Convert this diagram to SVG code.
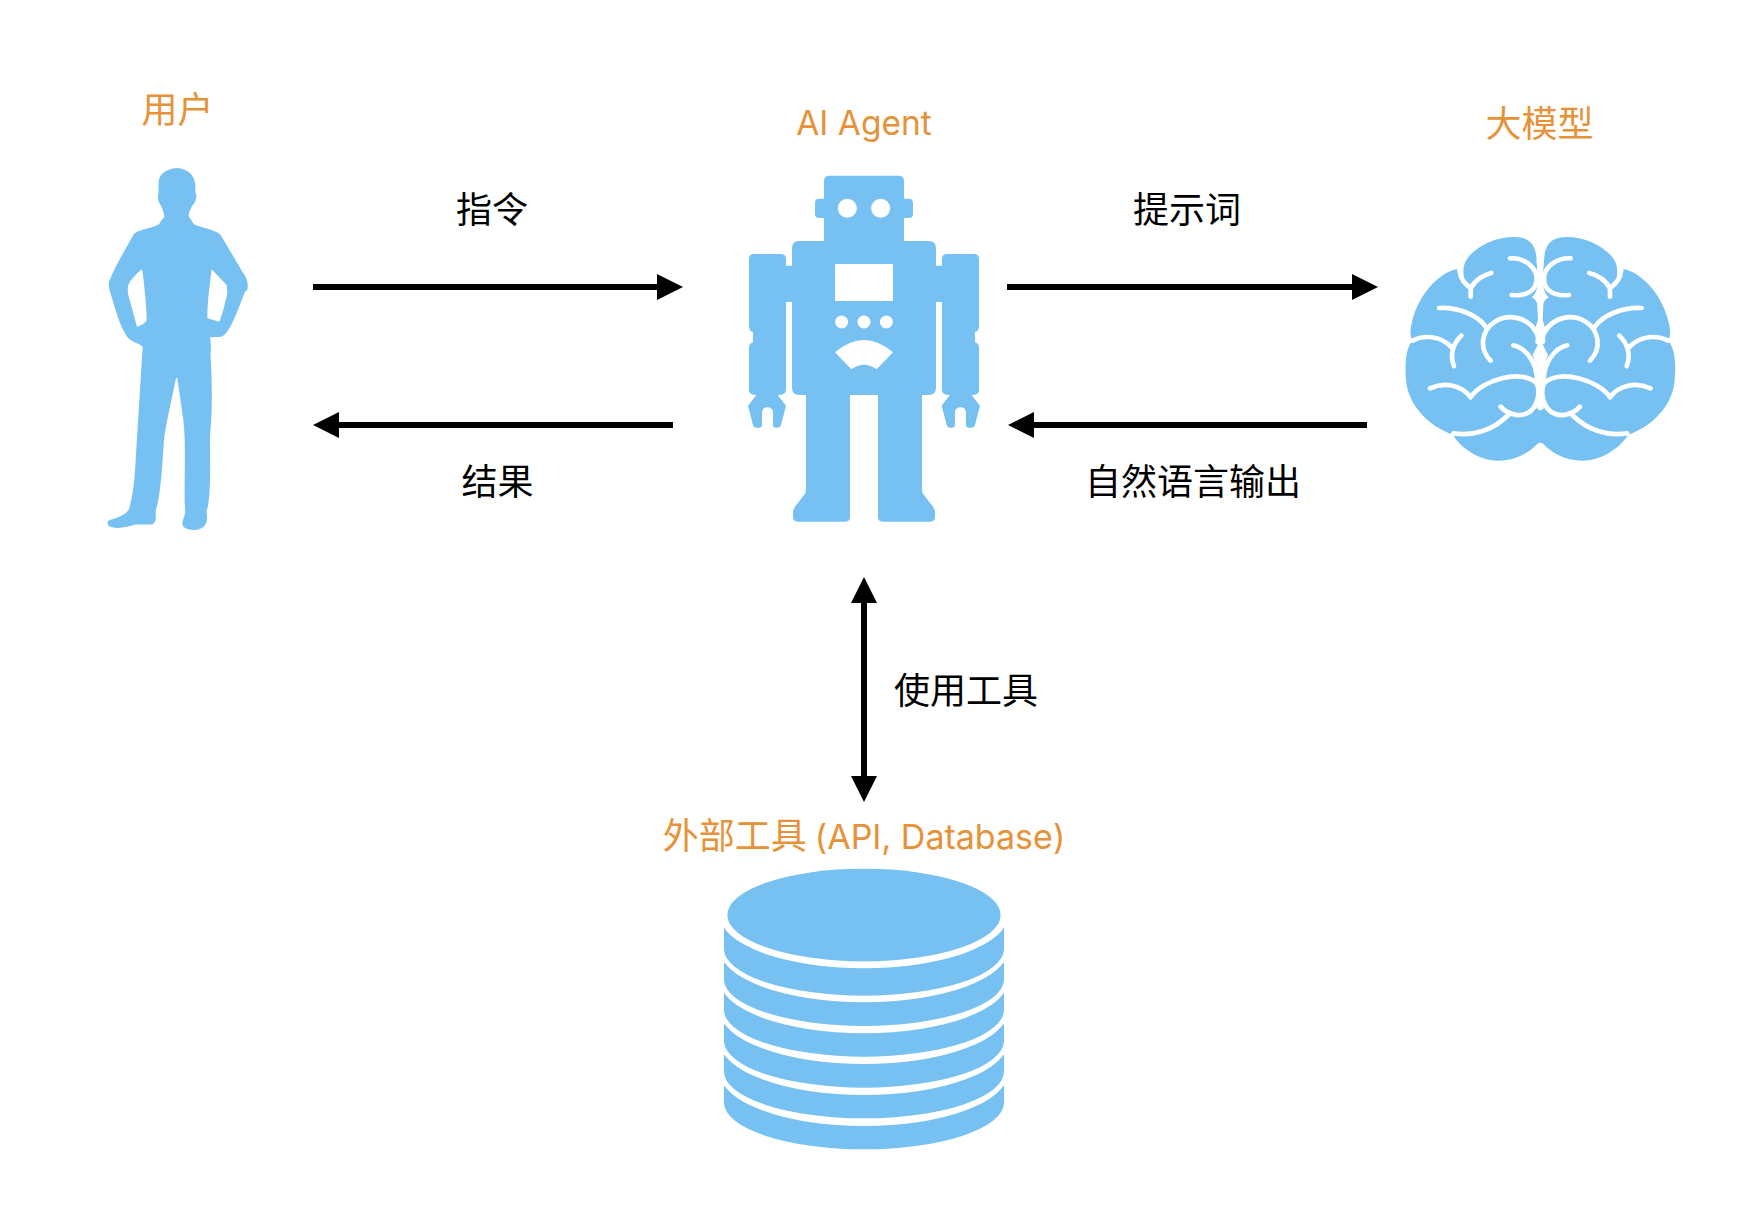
<svg xmlns="http://www.w3.org/2000/svg" width="1752" height="1220" viewBox="0 0 1752 1220">
<style>
.b{fill:#76c1f2}.w{fill:#fff}.ws{fill:none;stroke:#fff;stroke-width:14;stroke-linecap:round;stroke-linejoin:round}
.t{font-family:"Noto Sans CJK SC","Noto Sans",sans-serif;font-size:36px;text-anchor:middle}
.l{font-family:Inter,"Noto Sans",sans-serif;font-size:33.500px}
.m{font-family:Inter,"Noto Sans",sans-serif;font-size:34px}
.o{fill:#e69238}.k{fill:#000}
.c{stroke:#000;stroke-width:6;fill:none}
</style>
<defs>
<marker id="a" markerUnits="userSpaceOnUse" markerWidth="27" markerHeight="26" refX="1" refY="13" orient="auto-start-reverse"><path d="M0,0L26,13L0,26Z" fill="#000"/></marker>
</defs>
<rect width="1752" height="1220" fill="#fff"/>
<g id="connectors">
<path class="c" d="M313,287H658" marker-end="url(#a)"/>
<path class="c" d="M673,425H338" marker-end="url(#a)"/>
<path class="c" d="M1007,287H1353" marker-end="url(#a)"/>
<path class="c" d="M1367,425H1033" marker-end="url(#a)"/>
<path class="c" d="M864,602V777" marker-start="url(#a)" marker-end="url(#a)"/>
</g>
<g id="user">
<path class="b" fill-rule="evenodd" transform="translate(90,70) scale(.3333)" d="M262,294C290,295 315,315 316,345L316,368C322,372 320,395 306,408C298,425 292,435 300,445C305,450 308,462 318,466C345,475 380,482 392,495L460,610C470,622 476,640 472,660L465,665C445,715 420,790 395,800L360,802C366,830 360,850 362,860C367,950 367,1030 360,1100C360,1170 364,1290 349,1325C356,1350 350,1380 310,1380C285,1378 272,1370 279,1350C288,1330 286,1315 284,1300C283,1200 288,1120 280,1050L262,925H258C245,990 228,1060 222,1110C218,1170 212,1285 197,1322C198,1345 199,1364 180,1364H135C115,1372 80,1378 58,1370C50,1362 52,1352 60,1350C85,1342 110,1335 118,1315C135,1250 135,1200 140,1120L158,830C140,815 120,820 105,790C85,755 70,695 60,665C55,650 56,635 60,628C75,590 105,540 130,495C135,480 190,475 208,462C212,450 222,445 223,440C220,420 215,410 210,403C203,390 202,375 206,368C205,355 205,335 208,325C215,305 240,295 262,294ZM152,600C135,615 122,630 116,642C112,655 113,665 115,675L141,770C152,766 165,762 170,750C170,710 163,650 158,605C157,600 155,599 152,600ZM365,598C360,640 352,695 352,745L388,755C398,730 405,700 412,672L410,645Z"/>
</g>
<g id="agent" transform="translate(730,160) scale(.3333)">
<path class="b" fill-rule="evenodd" d="M298,47H506Q522,47 522,63V116H536Q549,116 549,129V161Q549,174 536,174H522V243H596Q618,243 618,265V317H636V297Q636,282 651,282H732Q747,282 747,297V497Q747,515 735,515V547Q747,550 747,565V690Q747,705 725,705L750,737L735,795Q733,803 725,803H718Q708,803 708,795V760Q708,742 692,742Q675,742 675,760V795Q675,803 665,803H660Q652,803 650,795L635,737L660,705Q636,705 636,690V426H618V683Q618,705 596,705H576V990Q576,998 582,1005L610,1042Q615,1050 615,1060V1072Q615,1085 600,1085H458Q444,1085 444,1072V705H360V1072Q360,1085 346,1085H204Q189,1085 189,1072V1060Q189,1050 194,1042L222,1005Q228,998 228,990V705H208Q186,705 186,683V426H168V690Q168,705 143,705L168,737L153,795Q151,803 143,803H138Q129,803 129,795V760Q129,742 112,742Q96,742 96,760V795Q96,803 86,803H79Q71,803 69,795L54,737L79,705Q57,705 57,690V565Q57,550 69,547V515Q57,515 57,497V297Q57,282 72,282H153Q168,282 168,297V317H186V265Q186,243 208,243H282V174H268Q255,174 255,161V129Q255,116 268,116H282V63Q282,47 298,47Z"/>
<circle class="w" cx="352" cy="145" r="28.500"/><circle class="w" cx="452" cy="145" r="28.500"/>
<rect class="w" x="315" y="312" width="174" height="111"/>
<circle class="w" cx="335" cy="486" r="19.500"/><circle class="w" cx="402" cy="486" r="19.500"/><circle class="w" cx="469" cy="486" r="19.500"/>
<path class="w" d="M315,577Q402,503 489,577L440,628Q402,600 364,628Z"/>
</g>
<g id="llm" transform="translate(1390,220) scale(.3333)">
<path class="b" d="M440,130C440,80 425,52 375,51C320,50 270,75 240,105C222,125 217,145 222,170L205,146C150,155 85,220 65,310C60,335 60,350 68,362C45,385 45,440 48,480C55,560 120,620 190,645C205,675 260,722 325,722C380,722 420,695 442,672Q451,664 460,672C482,695 522,722 577,722C642,722 697,675 714,645C784,620 848,560 854,480C858,440 857,385 834,362C842,350 842,335 837,310C817,220 752,155 697,146L680,170C685,145 680,125 662,105C632,75 582,50 527,51C477,52 462,80 462,130Z"/>
<path class="w" d="M440,120C441,150 444,165 444,180C444,205 435,225 425,232C436,238 442,245 442,258L444,300L436,325L443,375L428,405C436,425 439,445 439,490L443,525V545L440,565L451,572L462,565L459,545V525L463,490C463,445 466,425 474,405L459,375L466,325L458,300L460,258C460,245 466,238 477,232C467,225 458,205 458,180C458,165 461,150 462,120Z"/>
<g class="ws">
<path d="M360,115C400,112 440,140 440,175C440,205 420,230 365,225"/>
<path d="M542,115C502,112 462,140 462,175C462,205 482,230 537,225"/>
<path d="M208,150C212,180 225,190 242,205M242,230V205C255,180 280,165 304,159"/>
<path d="M694,150C690,180 677,190 660,205M660,230V205C647,180 622,165 598,159"/>
<path d="M147,264C200,260 265,285 288,322M302,422C265,385 275,330 315,305C355,280 415,290 440,340C443,345 445,355 443,365"/>
<path d="M755,264C702,260 637,285 614,322M600,422C637,385 627,330 587,305C547,280 487,290 462,340C459,345 457,355 459,365"/>
<path d="M68,362C100,345 150,345 185,382M192,438C180,410 185,375 214,347"/>
<path d="M834,362C802,345 752,345 717,382M710,438C722,410 717,375 688,347"/>
<path d="M370,376C410,385 440,430 441,480"/>
<path d="M532,376C492,385 462,430 461,480"/>
<path d="M120,505C165,485 215,495 242,532C275,480 395,445 440,490C455,520 440,590 380,585C360,582 345,575 332,560"/>
<path d="M782,505C737,485 687,495 660,532C627,480 507,445 462,490C447,520 462,590 522,585C542,582 557,575 570,560"/>
<path d="M190,640C250,650 310,630 355,585"/>
<path d="M712,640C652,650 592,630 547,585"/>
</g>
</g>
<g id="database" transform="translate(700,850) scale(.3333)">
<path class="b" d="M72,708V758A420,140 0 0 0 912,758V708Z"/><ellipse class="w" cx="492" cy="668" rx="432" ry="160"/>
<path class="b" d="M72,615V665A420,140 0 0 0 912,665V615Z"/><ellipse class="w" cx="492" cy="575" rx="432" ry="160"/>
<path class="b" d="M72,523V573A420,140 0 0 0 912,573V523Z"/><ellipse class="w" cx="492" cy="482" rx="432" ry="160"/>
<path class="b" d="M72,430V480A420,140 0 0 0 912,480V430Z"/><ellipse class="w" cx="492" cy="390" rx="432" ry="160"/>
<path class="b" d="M72,338V388A420,140 0 0 0 912,388V338Z"/><ellipse class="w" cx="492" cy="297" rx="432" ry="160"/>
<path class="b" d="M72,232V297A420,140 0 0 0 912,297V232Z"/><ellipse class="w" cx="492" cy="195" rx="432" ry="160"/>
<ellipse class="b" cx="492" cy="195" rx="410" ry="139"/>
</g>
<g id="labels">
<text class="t o" x="177.500" y="122.500">用户</text>
<text class="t o l" x="864" y="135">AI Agent</text>
<text class="t o" x="1539.500" y="136.500">大模型</text>
<text class="t o" x="864" y="849">外部工具 <tspan class="m">(API, Database)</tspan></text>
<text class="t k" x="492" y="222.500">指令</text>
<text class="t k" x="497.500" y="495">结果</text>
<text class="t k" x="1187" y="222.500">提示词</text>
<text class="t k" x="1193" y="495">自然语言输出</text>
<text class="t k" x="966" y="703.500">使用工具</text>
</g>
</svg>
